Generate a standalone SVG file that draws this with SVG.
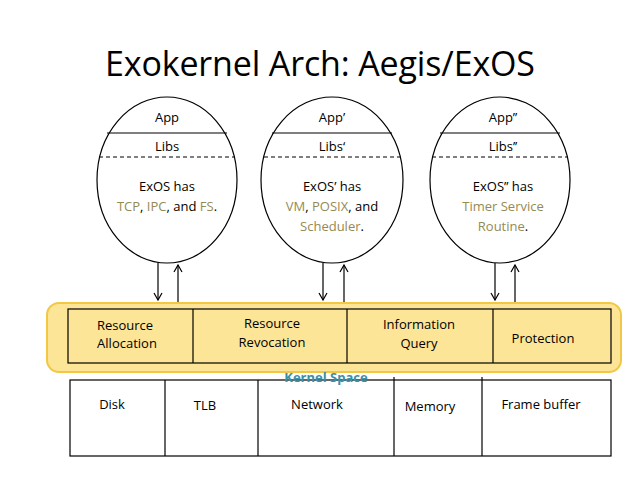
<svg xmlns="http://www.w3.org/2000/svg" width="638" height="479" viewBox="0 0 638 479">
<style>
text{font-family:"Open Sans","Liberation Sans",sans-serif;font-size:13px;fill:#000;text-anchor:middle}
.hl{fill:#948a54}
.e{fill:#fff;stroke:#000;stroke-width:1.2}
.l{stroke:#000;stroke-width:1.2}
.d{stroke:#000;stroke-width:1.2;stroke-dasharray:4 3}
.b{fill:none;stroke:#000;stroke-width:1.2}
</style>
<defs><marker id="a" markerWidth="10" markerHeight="10" refX="8" refY="5" orient="auto" markerUnits="userSpaceOnUse"><path d="M1,1 L8,5 L1,9" fill="none" stroke="#000" stroke-width="1.2"/></marker></defs>
<rect width="638" height="479" fill="#fff"/>
<text x="320" y="76" style="font-size:34px" textLength="430">Exokernel Arch: Aegis/ExOS</text>
<g id="os1">
<ellipse class="e" cx="167" cy="180" rx="70" ry="83"/>
<line class="l" x1="107" y1="133" x2="227" y2="133"/><line class="d" x1="99" y1="157" x2="235" y2="157"/>
<text x="167" y="122">App</text><text x="167" y="151">Libs</text>
<text x="167" y="191">ExOS has</text>
<text x="167" y="211"><tspan class="hl">TCP</tspan>, <tspan class="hl">IPC</tspan>, and <tspan class="hl">FS</tspan>.</text>
</g>
<g id="os2">
<ellipse class="e" cx="332" cy="180" rx="71" ry="83"/>
<line class="l" x1="272" y1="133" x2="392" y2="133"/><line class="d" x1="264" y1="157" x2="400" y2="157"/>
<text x="332" y="122">App’</text><text x="332" y="151">Libs‘</text>
<text x="332" y="191">ExOS’ has</text>
<text x="332" y="211"><tspan class="hl">VM</tspan>, <tspan class="hl">POSIX</tspan>, and</text>
<text x="332" y="231"><tspan class="hl">Scheduler</tspan>.</text>
</g>
<g id="os3">
<ellipse class="e" cx="500" cy="180" rx="70" ry="83"/>
<line class="l" x1="440" y1="133" x2="560" y2="133"/><line class="d" x1="432" y1="157" x2="568" y2="157"/>
<text x="503" y="122">App’’</text><text x="503" y="151">Libs’’</text>
<text x="503" y="191">ExOS’’ has</text>
<text x="503" y="211" class="hl">Timer Service</text>
<text x="503" y="231"><tspan class="hl">Routine</tspan>.</text>
</g>
<g id="kernel">
<rect x="47" y="303" width="574" height="69" rx="12" fill="#fde597" stroke="#f2c744" stroke-width="2"/>
<rect class="b" x="68" y="309" width="543" height="54"/>
<line class="l" x1="193" y1="309" x2="193" y2="363"/><line class="l" x1="347" y1="309" x2="347" y2="363"/><line class="l" x1="493" y1="309" x2="493" y2="363"/>
<text x="125" y="330">Resource</text><text x="127" y="348">Allocation</text>
<text x="272" y="328">Resource</text><text x="272" y="347">Revocation</text>
<text x="419" y="329">Information</text><text x="419" y="348">Query</text>
<text x="543" y="343">Protection</text>
</g>
<g id="hw">
<rect class="b" x="70" y="380" width="541" height="76"/>
<line class="l" x1="165" y1="380" x2="165" y2="456"/><line class="l" x1="258" y1="380" x2="258" y2="456"/><line class="l" x1="394" y1="377" x2="394" y2="456"/><line class="l" x1="482" y1="377" x2="482" y2="456"/>
<text x="112" y="409">Disk</text><text x="205" y="410">TLB</text><text x="317" y="409">Network</text><text x="430" y="411">Memory</text><text x="541" y="409">Frame buffer</text>
<text x="326" y="382" style="font-weight:bold;fill:#3d8fa6;font-size:13px">Kernel Space</text>
</g>
<g id="connectors">
<line class="l" x1="158" y1="263" x2="158" y2="300" marker-end="url(#a)"/>
<line class="l" x1="178" y1="302" x2="178" y2="265" marker-end="url(#a)"/>
<line class="l" x1="323" y1="263" x2="323" y2="300" marker-end="url(#a)"/>
<line class="l" x1="344" y1="302" x2="344" y2="265" marker-end="url(#a)"/>
<line class="l" x1="495" y1="263" x2="495" y2="300" marker-end="url(#a)"/>
<line class="l" x1="515" y1="302" x2="515" y2="265" marker-end="url(#a)"/>
</g>
</svg>
